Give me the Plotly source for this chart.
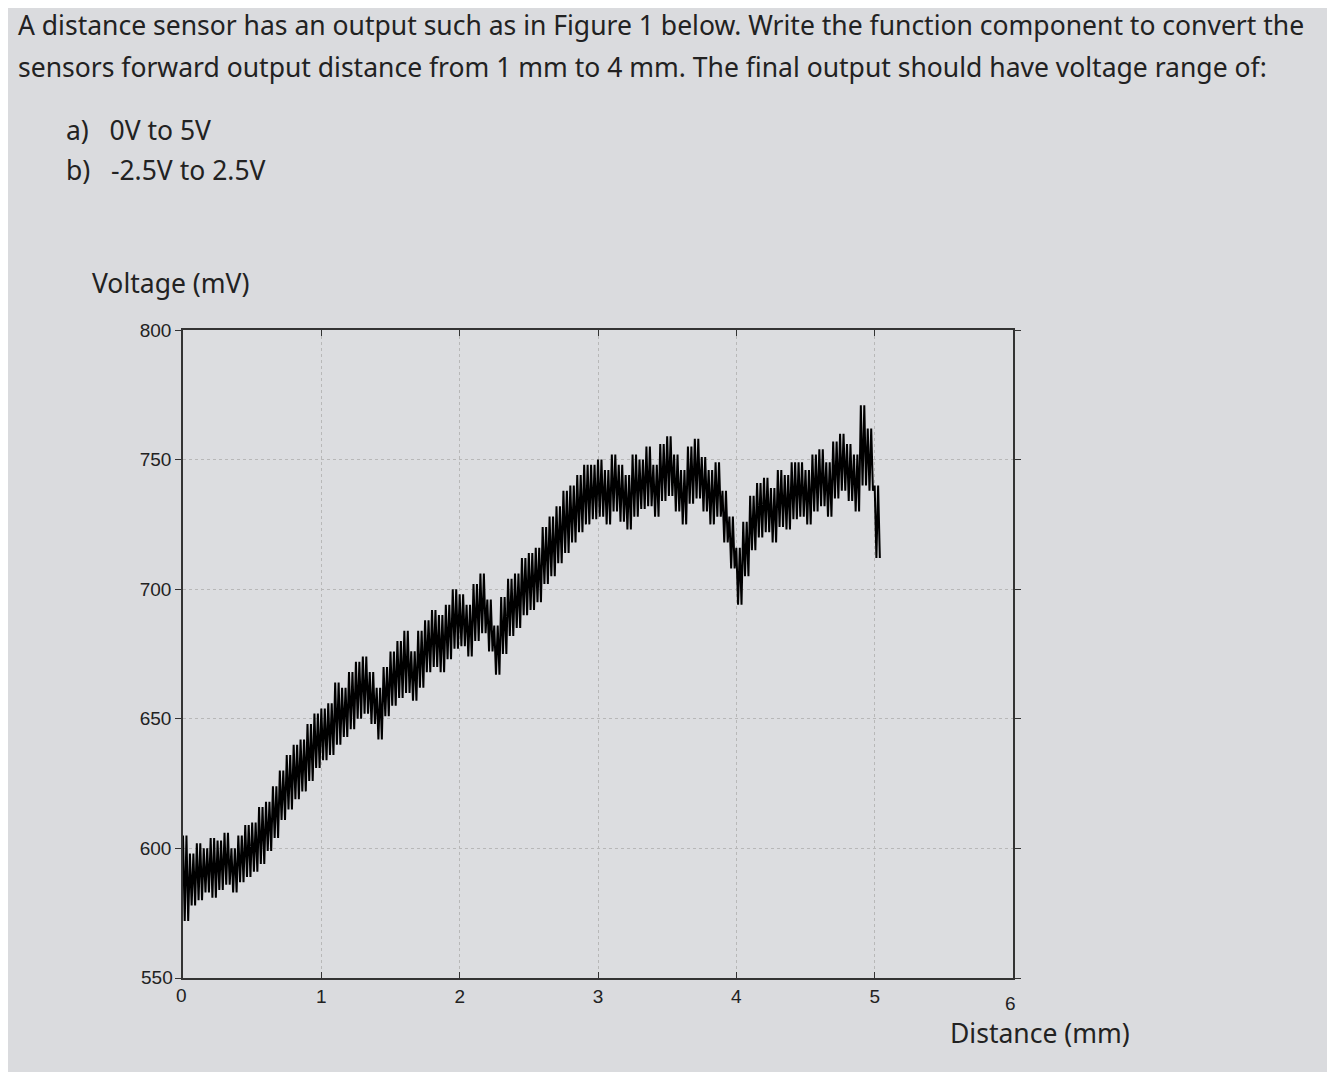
import numpy as np
import plotly.graph_objects as go

# distance samples (mm), every 0.05 mm
dist = np.round(np.arange(0, 5.0001, 0.05), 2)
# upper and lower edges of the noisy trace (mV)
v_hi = [605, 598, 602, 600, 604, 603, 606, 600, 605, 609, 610, 616, 618, 624, 630, 636, 640, 642, 648, 652,
        654, 656, 664, 662, 668, 672, 674, 668, 662, 670, 676, 680, 684, 676, 684, 688, 692, 690, 694, 700,
        698, 694, 702, 706, 696, 686, 697, 704, 706, 712, 714, 716, 724, 728, 732, 738, 740, 744, 748, 748,
        750, 746, 752, 748, 744, 752, 750, 755, 748, 756, 759, 752, 746, 755, 758, 751, 746, 749, 738, 728,
        716, 726, 736, 741, 743, 739, 746, 744, 749, 749, 746, 752, 754, 749, 757, 760, 756, 752, 771, 762, 740]
v_lo = [572, 578, 580, 583, 581, 584, 586, 583, 587, 589, 591, 594, 599, 604, 611, 615, 619, 622, 626, 631,
        634, 636, 640, 643, 646, 650, 652, 648, 642, 651, 655, 658, 660, 657, 662, 668, 670, 668, 673, 677,
        678, 674, 680, 683, 676, 667, 675, 682, 685, 690, 692, 695, 702, 705, 710, 714, 718, 722, 725, 727,
        728, 725, 730, 726, 723, 728, 731, 732, 728, 734, 736, 730, 725, 733, 735, 730, 725, 728, 718, 708,
        694, 705, 715, 720, 722, 718, 724, 723, 727, 728, 725, 730, 732, 728, 735, 738, 734, 730, 740, 738, 712]

x_ticks = [0, 1, 2, 3, 4, 5, 6]
y_ticks = [550, 600, 650, 700, 750, 800]

xs, ys = [], []
for i in range(len(dist)):
    xs += [dist[i], dist[i] + 0.0125, dist[i] + 0.025, dist[i] + 0.0375]
    ys += [v_hi[i], v_lo[i], v_hi[i], v_lo[i]]

fig = go.Figure(go.Scatter(x=xs, y=ys, mode="lines", line=dict(color="black", width=2),
                           showlegend=False))

OFF = 8  # page margin around the figure
fig.update_layout(
    width=1335 - 2 * OFF, height=1080 - 2 * OFF,
    paper_bgcolor="#dadbde", plot_bgcolor="#dcdde0",
    margin=dict(l=183 - OFF, r=1335 - 1013 - OFF, t=330 - OFF, b=1080 - 978 - OFF),
    font=dict(family="Liberation Sans", color="#222", size=19),
)
fig.update_xaxes(range=[0, 6], tickvals=x_ticks, ticktext=["", "1", "2", "3", "4", "5", ""],
                 showgrid=True, gridcolor="#b8b8b8", griddash="dot",
                 showline=True, linecolor="#333", linewidth=1.5, mirror="ticks",
                 ticks="inside", ticklen=6, tickcolor="#333", zeroline=False)
fig.update_yaxes(range=[550, 800], tickvals=y_ticks, ticktext=["", "600", "650", "700", "750", "800"],
                 showgrid=True, gridcolor="#b8b8b8", griddash="dot",
                 showline=True, linecolor="#333", linewidth=1.5, mirror="ticks",
                 ticks="outside", ticklen=6, tickcolor="#333", zeroline=False)

txt = dict(font=dict(family="Noto Sans", size=26.5, color="#222"), showarrow=False,
           xref="paper", yref="paper", xanchor="left", yanchor="middle")
W, H = 830, 648  # plot area in pixels
def px(x, y):
    return (x - 183) / W, (978 - y) / H

anns = [
    ("A distance sensor has an output such as in Figure 1 below. Write the function component to convert the", 16, 25),
    ("sensors forward output distance from 1 mm to 4 mm. The final output should have voltage range of:", 16, 67),
    ("a)   0V to 5V", 64, 130),
    ("b)   -2.5V to 2.5V", 64, 170),
    ("Voltage (mV)", 90, 283),
    ("Distance (mm)", 948, 1033),
]
for t, x, y in anns:
    ax, ay = px(x, y)
    fig.add_annotation(text=t, x=ax, y=ay, **txt)

small = dict(font=dict(family="Liberation Sans", size=19, color="#222"), showarrow=False,
             xref="paper", yref="paper", xanchor="center", yanchor="middle")
for t, x, y in [("550", 157, 977), ("0", 181, 995), ("6", 1010, 1003)]:
    ax, ay = px(x, y)
    fig.add_annotation(text=t, x=ax, y=ay, **small)

fig.write_html("out.html")
